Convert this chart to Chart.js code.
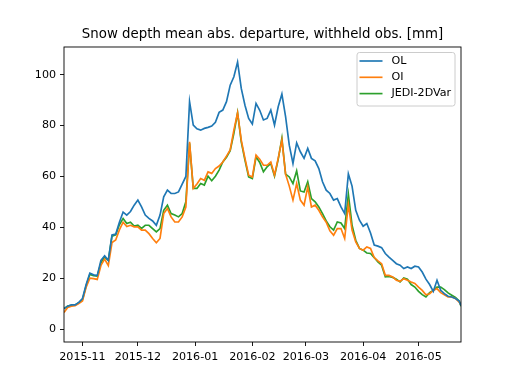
<!DOCTYPE html>
<html>
<head>
<meta charset="utf-8">
<script src="https://cdn.jsdelivr.net/npm/chart.js@4/dist/chart.umd.min.js"></script>
<style>
  body { margin: 0; background: #fff; }
  canvas { display: block; }
</style>
</head>
<body>
<canvas id="snow-chart" width="512" height="384"></canvas>
<script>
// days since 2015-10-22
var days = [
    0, 2, 4, 6, 8, 10, 12, 14, 16, 18,
    20, 22, 24, 26, 28, 30, 32, 34, 36, 38,
    40, 42, 44, 46, 48, 50, 52, 54, 56, 58,
    60, 62, 64, 66, 68, 70, 72, 74, 76, 78,
    80, 82, 84, 86, 88, 90, 92, 94, 96, 98,
    100, 102, 104, 106, 108, 110, 112, 114, 116, 118,
    120, 122, 124, 126, 128, 130, 132, 134, 136, 138,
    140, 142, 144, 146, 148, 150, 152, 154, 156, 158,
    160, 162, 164, 166, 168, 170, 172, 174, 176, 178,
    180, 182, 184, 186, 188, 190, 192, 194, 196, 198,
    200, 202, 204, 206, 208, 210, 212, 214, 215
];

var olValues = [
    8, 9, 9.5, 9.5, 10.5, 12, 17.5, 22, 21.3, 21,
    27, 28.8, 27, 37, 37.3, 42, 46, 44.8, 46.2, 48.7,
    50.7, 48, 44.8, 43.5, 42.5, 40.8, 44.8, 52, 54.6, 53.3,
    53.3, 53.9, 57, 60, 89.4, 80.2, 78.7, 78.2, 78.9, 79.3,
    79.8, 81.3, 85.2, 86.1, 89.4, 95.9, 99.2, 105, 94.6, 88,
    82.8, 80.6, 88.7, 86, 82.2, 82.8, 86.1, 80.2, 87.4, 92.4,
    83.5, 72.3, 65.1, 73.2, 69.7, 67.1, 71, 67.1, 66.1, 63.1,
    57.9, 54.6, 53.3, 50.7, 51.3, 48, 45.4, 61, 56.2, 46.7,
    42.8, 40.4, 41.5, 37.8, 33, 32.6, 32, 29.7, 28.3, 27,
    25.7, 25.1, 23.8, 24.4, 23.8, 24.7, 24.4, 22.4, 19.6, 17.5,
    14.8, 19.2, 15.2, 13.9, 12.9, 12.6, 12, 11, 9.3
];

var oiValues = [
    6.5, 8.5, 9, 9.2, 10, 11, 16.5, 20, 19.8, 19.5,
    25, 27.5, 25, 34, 35, 39, 42, 40.3, 40.8, 40.2,
    40.2, 38.9, 38.9, 37.5, 35.6, 33.9, 35.6, 45.4, 47.4, 44.1,
    42.1, 42.1, 44.1, 48, 73.6, 55.3, 57, 59.2, 58.5, 61.8,
    61.2, 63.1, 64.1, 65.7, 68, 70.4, 78.2, 85, 74.3, 67.1,
    60.5, 59.8, 68.4, 66.8, 64.4, 64.4, 65.7, 60.5, 67.1, 74.3,
    60.9, 56.2, 50.7, 57.2, 50.7, 48.7, 55.9, 48, 48.7, 46.7,
    44.1, 42, 38.6, 36.9, 39.5, 39.5, 35.6, 49, 38.9, 34.3,
    31.7, 31, 32.3, 31.7, 28.1, 26.8, 25.7, 21.1, 21.1, 20.5,
    19.2, 18.8, 19.8, 19.2, 18.5, 17.9, 16.5, 15.2, 13.5, 13.9,
    15.2, 15.9, 14.3, 13.5, 12.6, 12.6, 12, 10.6, 9.5
];

var jediValues = [
    8, 9, 9.3, 9.5, 10.3, 11.5, 17, 21.5, 21, 20.8,
    26, 28.3, 27, 36.5, 37, 41, 43.5, 41.5, 42, 40.5,
    40.8, 39.6, 40.8, 40.8, 39.5, 38.2, 39.5, 46.7, 48.7, 45.4,
    44.8, 44.1, 45.4, 50, 73, 55.3, 55.3, 57.2, 56.6, 60.1,
    58.3, 60.1, 62.5, 65.7, 67.5, 70.1, 76.9, 85, 73.6, 66.4,
    59.8, 59.2, 67.7, 65.5, 61.8, 63.8, 65.1, 60.1, 66.7, 75,
    60.9, 59.8, 57.2, 62.2, 54.3, 53.9, 57.9, 51.3, 50, 48,
    45.4, 42.5, 40.2, 38.9, 42.1, 41.7, 39.5, 53, 40.8, 34.9,
    31.7, 31, 29.9, 29.7, 28.1, 26.4, 25.1, 20.5, 20.7, 20.3,
    19.6, 18.5, 20.1, 19.6, 17.5, 16.5, 14.8, 13.5, 12.6, 14.3,
    15.2, 16.5, 16.5, 15.5, 14.2, 13.3, 12.4, 11, 9
];

var seriesNames = ['OL', 'OI', 'JEDI-2DVar'];
var monthTicks = [10, 40, 71, 102, 131, 162, 192];
var monthLabels = ['2015-11', '2015-12', '2016-01', '2016-02', '2016-03', '2016-04', '2016-05'];
var yTicks = [0, 20, 40, 60, 80, 100];

function toPoints(values) {
    return values.map(function (v, i) { return { x: days[i], y: v }; });
}

// axes frame + legend box drawn like matplotlib
var framePlugin = {
    id: 'frame',
    afterDraw: function (chart) {
        var ctx = chart.ctx;
        var a = chart.chartArea;
        ctx.save();
        ctx.strokeStyle = '#000';
        ctx.lineWidth = 0.9;
        ctx.strokeRect(a.left, a.top, a.right - a.left, a.bottom - a.top);

        // legend
        var x0 = 357, y0 = 52.5, w = 98, h = 53.5, r = 2.5;
        ctx.beginPath();
        ctx.moveTo(x0 + r, y0);
        ctx.arcTo(x0 + w, y0, x0 + w, y0 + h, r);
        ctx.arcTo(x0 + w, y0 + h, x0, y0 + h, r);
        ctx.arcTo(x0, y0 + h, x0, y0, r);
        ctx.arcTo(x0, y0, x0 + w, y0, r);
        ctx.closePath();
        ctx.fillStyle = 'rgba(255, 255, 255, 0.8)';
        ctx.fill();
        ctx.strokeStyle = '#cccccc';
        ctx.lineWidth = 1;
        ctx.stroke();

        ctx.font = '11.1px "DejaVu Sans"';
        ctx.textBaseline = 'middle';
        ctx.textAlign = 'left';
        chart.data.datasets.forEach(function (ds, i) {
            var y = 61 + i * 16.3;
            ctx.beginPath();
            ctx.moveTo(359.5, y);
            ctx.lineTo(382.5, y);
            ctx.strokeStyle = ds.borderColor;
            ctx.lineWidth = 1.67;
            ctx.stroke();
            ctx.fillStyle = '#000';
            ctx.fillText(ds.label, 391.5, y);
        });
        ctx.restore();
    }
};

Chart.defaults.font.family = 'DejaVu Sans';
Chart.defaults.color = '#000';

var snowChartNode = document.getElementById('snow-chart').getContext('2d');
var snowChart = new Chart(snowChartNode, {
    type: 'line',
    data: {
        datasets: [{
            label: seriesNames[0],
            data: toPoints(olValues),
            borderColor: '#1f77b4',
            borderWidth: 1.67,
            pointRadius: 0,
            fill: false
        }, {
            label: seriesNames[1],
            data: toPoints(oiValues),
            borderColor: '#ff7f0e',
            borderWidth: 1.67,
            pointRadius: 0,
            fill: false
        }, {
            label: seriesNames[2],
            data: toPoints(jediValues),
            borderColor: '#2ca02c',
            borderWidth: 1.67,
            pointRadius: 0,
            fill: false
        }]
    },
    options: {
        responsive: false,
        animation: false,
        devicePixelRatio: 1,
        layout: {
            padding: { left: 0, right: 51, top: 0, bottom: 0 }
        },
        scales: {
            x: {
                type: 'linear',
                min: 0,
                max: 215,
                afterBuildTicks: function (scale) {
                    scale.ticks = monthTicks.map(function (v) { return { value: v }; });
                },
                afterFit: function (scale) { scale.height = 42; },
                ticks: {
                    autoSkip: false,
                    maxRotation: 0,
                    padding: 4,
                    font: { size: 11.1 },
                    color: '#000',
                    callback: function (value) {
                        return monthLabels[monthTicks.indexOf(value)];
                    }
                },
                grid: {
                    display: true,
                    drawOnChartArea: false,
                    drawTicks: true,
                    tickLength: 4,
                    color: '#000',
                    lineWidth: 0.9
                },
                border: { display: false }
            },
            y: {
                min: -5.1,
                max: 110.9,
                afterBuildTicks: function (scale) {
                    scale.ticks = yTicks.map(function (v) { return { value: v }; });
                },
                afterFit: function (scale) { scale.width = 64; },
                ticks: {
                    padding: 4,
                    font: { size: 11.1 },
                    color: '#000'
                },
                grid: {
                    display: true,
                    drawOnChartArea: false,
                    drawTicks: true,
                    tickLength: 4,
                    color: '#000',
                    lineWidth: 0.9
                },
                border: { display: false }
            }
        },
        plugins: {
            legend: { display: false },
            tooltip: { enabled: false },
            title: {
                display: true,
                fullSize: false,
                text: 'Snow depth mean abs. departure, withheld obs. [mm]',
                font: { size: 13.33, weight: 'normal' },
                color: '#000',
                padding: { top: 27, bottom: 4 }
            }
        }
    },
    plugins: [framePlugin]
});
</script>
</body>
</html>
